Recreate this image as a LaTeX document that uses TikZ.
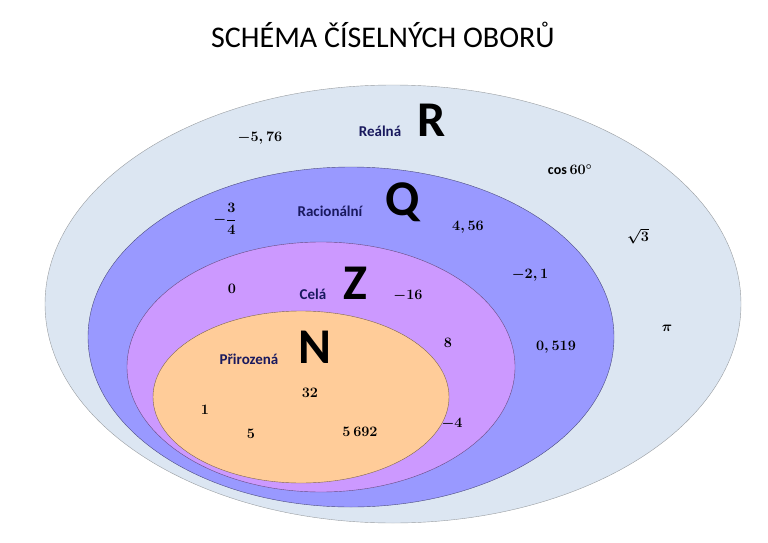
\documentclass[tikz,border=0pt]{standalone}
\usepackage{fontspec}
\setmainfont{Carlito}
\usepackage{amsmath}
\begin{document}
\begin{tikzpicture}[x=1pt,y=-1pt,
  lab/.style={font=\bfseries\fontsize{15}{17}\selectfont,text=blue!30!black!90},
  big/.style={font=\bfseries\fontsize{50}{54}\selectfont},
  num/.style={font=\fontsize{14}{16}\selectfont}]
\useasboundingbox (0,0) rectangle (768,543);
\definecolor{cR}{HTML}{DCE6F2}\definecolor{cQ}{HTML}{9999FF}
\definecolor{cZ}{HTML}{CC99FF}\definecolor{cN}{HTML}{FFCC99}
\node (title) at (383,35) {\fontsize{30}{34}\selectfont SCHÉMA ČÍSELNÝCH OBORŮ};
\filldraw[fill=cR,draw=cR!50!black!70] (393,304) ellipse [x radius=348,y radius=219];
\filldraw[fill=cQ,draw=cQ!50!black] (351,337) ellipse [x radius=263,y radius=170];
\filldraw[fill=cZ,draw=cZ!50!black] (321,367) ellipse [x radius=194,y radius=125];
\filldraw[fill=cN,draw=cN!50!black] (301,397) ellipse [x radius=148,y radius=86];
\node[lab] (lR) at (380,131) {Reálná};
\node[big] (R) at (432,120) {R};
\node[lab] (lQ) at (330,211) {Racionální};
\node[big] (Q) at (403,202) {Q};
\node[lab] (lZ) at (313,294) {Celá};
\node[big] (Z) at (355,283) {Z};
\node[lab] (lN) at (249,359) {Přirozená};
\node[big] (N) at (315,347) {N};
\node[num] (a1) at (260,138) {$\boldsymbol{-5,76}$};
\node[num] (a2) at (570,170) {$\boldsymbol{\cos 60^\circ}$};
\node[num] (a3) at (638,236) {$\boldsymbol{\sqrt{3}}$};
\node[num] (a4) at (667,328) {$\boldsymbol{\pi}$};
\node[num] (b1) at (225,219) {$\boldsymbol{-\dfrac{3}{4}}$};
\node[num] (b2) at (468,227) {$\boldsymbol{4,56}$};
\node[num] (b3) at (530,275) {$\boldsymbol{-2,1}$};
\node[num] (b4) at (556,347) {$\boldsymbol{0,519}$};
\node[num] (c1) at (232,289) {$\boldsymbol{0}$};
\node[num] (c2) at (408,296) {$\boldsymbol{-16}$};
\node[num] (c3) at (448,343) {$\boldsymbol{8}$};
\node[num] (c4) at (452,424) {$\boldsymbol{-4}$};
\node[num] (d1) at (310,393) {$\boldsymbol{32}$};
\node[num] (d2) at (205,410) {$\boldsymbol{1}$};
\node[num] (d3) at (251,434) {$\boldsymbol{5}$};
\node[num] (d4) at (360,432) {$\boldsymbol{5\,692}$};
\end{tikzpicture}
\end{document}
